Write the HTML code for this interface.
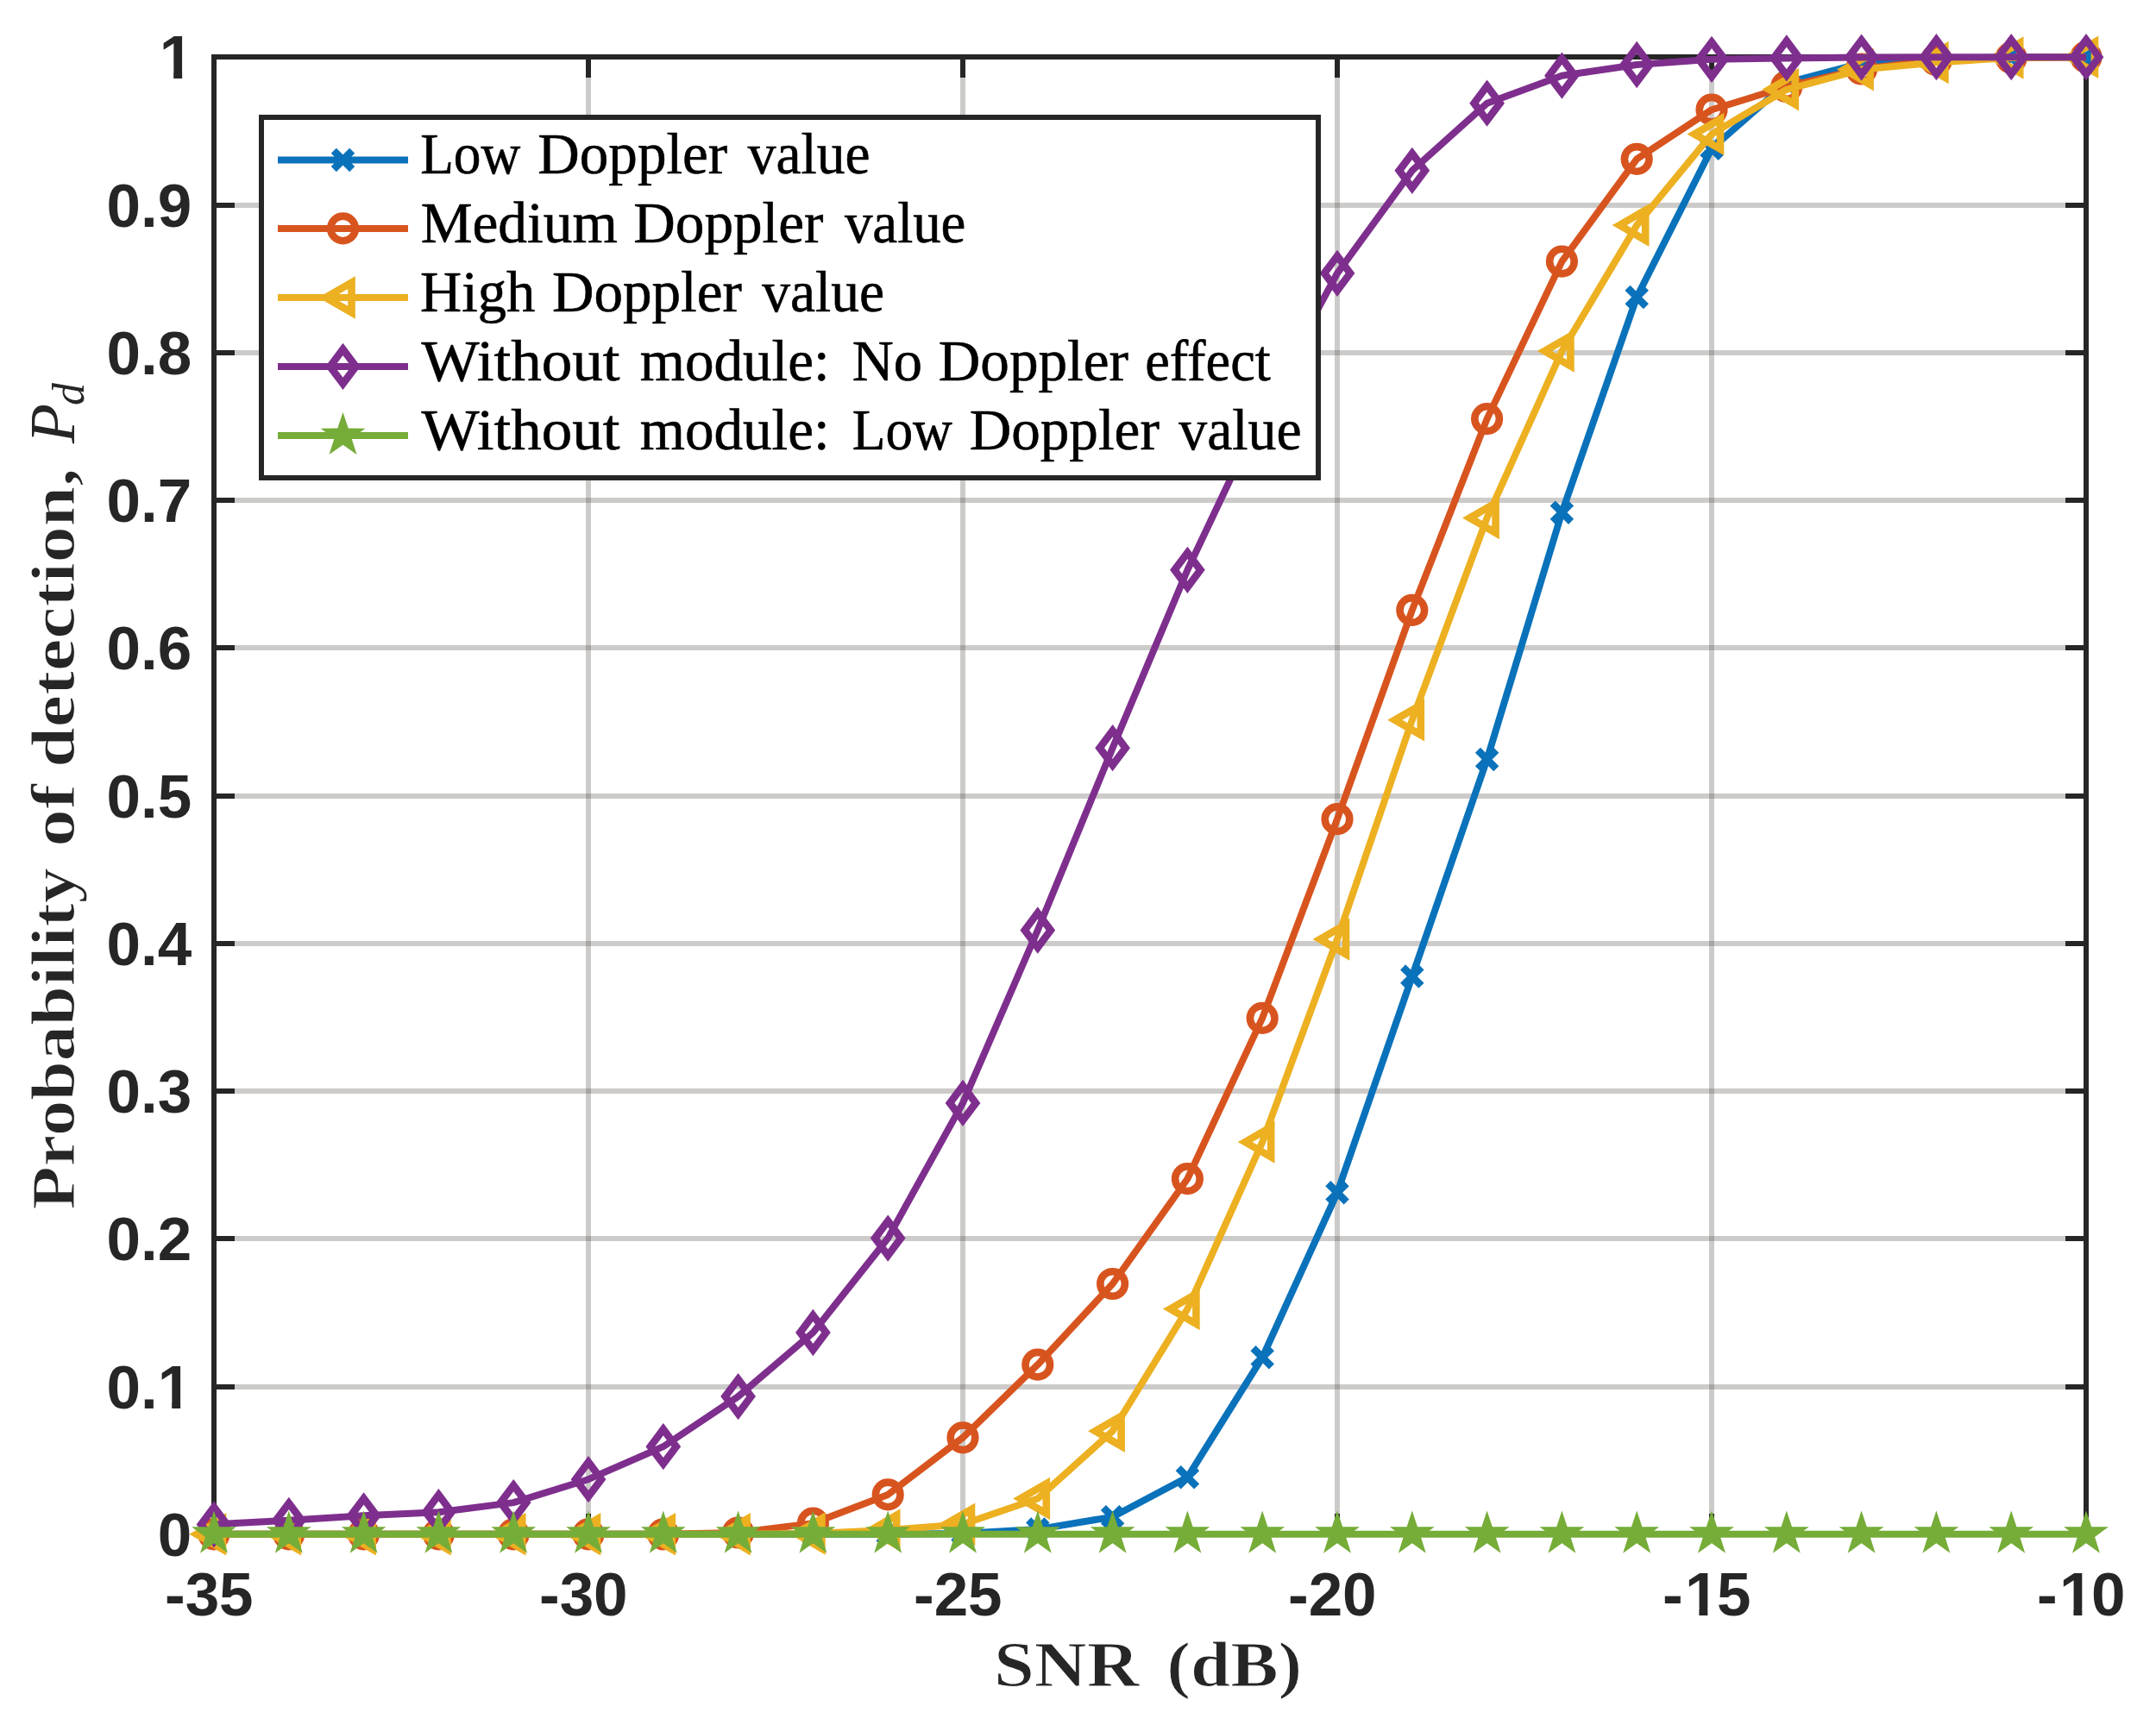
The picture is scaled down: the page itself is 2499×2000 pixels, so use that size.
<!DOCTYPE html>
<html lang="en"><head><meta charset="utf-8"><title>Probability of detection vs SNR</title>
<style>html,body{margin:0;padding:0;background:#fff;}body{width:2499px;height:2000px;overflow:hidden;}svg{display:block;}</style>
</head><body>
<svg width="2499" height="2000" viewBox="0 0 2499 2000">
<rect width="2499" height="2000" fill="#ffffff"/>
<g stroke="#cccbc9" stroke-width="6.0" fill="none">
<line x1="682.0" y1="66.0" x2="682.0" y2="1779.0"/>
<line x1="1116.0" y1="66.0" x2="1116.0" y2="1779.0"/>
<line x1="1550.0" y1="66.0" x2="1550.0" y2="1779.0"/>
<line x1="1984.0" y1="66.0" x2="1984.0" y2="1779.0"/>
<line x1="248.0" y1="1608" x2="2418.0" y2="1608"/>
<line x1="248.0" y1="1436" x2="2418.0" y2="1436"/>
<line x1="248.0" y1="1265" x2="2418.0" y2="1265"/>
<line x1="248.0" y1="1094" x2="2418.0" y2="1094"/>
<line x1="248.0" y1="923" x2="2418.0" y2="923"/>
<line x1="248.0" y1="751" x2="2418.0" y2="751"/>
<line x1="248.0" y1="580" x2="2418.0" y2="580"/>
<line x1="248.0" y1="409" x2="2418.0" y2="409"/>
<line x1="248.0" y1="238" x2="2418.0" y2="238"/>
</g>
<g fill="#a7a6a4">
<rect x="679.0" y="1605.0" width="6.0" height="6.0"/>
<rect x="679.0" y="1433.0" width="6.0" height="6.0"/>
<rect x="679.0" y="1262.0" width="6.0" height="6.0"/>
<rect x="679.0" y="1091.0" width="6.0" height="6.0"/>
<rect x="679.0" y="920.0" width="6.0" height="6.0"/>
<rect x="679.0" y="748.0" width="6.0" height="6.0"/>
<rect x="679.0" y="577.0" width="6.0" height="6.0"/>
<rect x="679.0" y="406.0" width="6.0" height="6.0"/>
<rect x="679.0" y="235.0" width="6.0" height="6.0"/>
<rect x="1113.0" y="1605.0" width="6.0" height="6.0"/>
<rect x="1113.0" y="1433.0" width="6.0" height="6.0"/>
<rect x="1113.0" y="1262.0" width="6.0" height="6.0"/>
<rect x="1113.0" y="1091.0" width="6.0" height="6.0"/>
<rect x="1113.0" y="920.0" width="6.0" height="6.0"/>
<rect x="1113.0" y="748.0" width="6.0" height="6.0"/>
<rect x="1113.0" y="577.0" width="6.0" height="6.0"/>
<rect x="1113.0" y="406.0" width="6.0" height="6.0"/>
<rect x="1113.0" y="235.0" width="6.0" height="6.0"/>
<rect x="1547.0" y="1605.0" width="6.0" height="6.0"/>
<rect x="1547.0" y="1433.0" width="6.0" height="6.0"/>
<rect x="1547.0" y="1262.0" width="6.0" height="6.0"/>
<rect x="1547.0" y="1091.0" width="6.0" height="6.0"/>
<rect x="1547.0" y="920.0" width="6.0" height="6.0"/>
<rect x="1547.0" y="748.0" width="6.0" height="6.0"/>
<rect x="1547.0" y="577.0" width="6.0" height="6.0"/>
<rect x="1547.0" y="406.0" width="6.0" height="6.0"/>
<rect x="1547.0" y="235.0" width="6.0" height="6.0"/>
<rect x="1981.0" y="1605.0" width="6.0" height="6.0"/>
<rect x="1981.0" y="1433.0" width="6.0" height="6.0"/>
<rect x="1981.0" y="1262.0" width="6.0" height="6.0"/>
<rect x="1981.0" y="1091.0" width="6.0" height="6.0"/>
<rect x="1981.0" y="920.0" width="6.0" height="6.0"/>
<rect x="1981.0" y="748.0" width="6.0" height="6.0"/>
<rect x="1981.0" y="577.0" width="6.0" height="6.0"/>
<rect x="1981.0" y="406.0" width="6.0" height="6.0"/>
<rect x="1981.0" y="235.0" width="6.0" height="6.0"/>
</g>
<g stroke="#262626" stroke-width="6.0" fill="none" stroke-linecap="butt">
<rect x="248.0" y="66.0" width="2170.0" height="1713.0"/>
<line x1="248.0" y1="1779.0" x2="248.0" y2="1755.0"/>
<line x1="248.0" y1="66.0" x2="248.0" y2="90.0"/>
<line x1="682.0" y1="1779.0" x2="682.0" y2="1755.0"/>
<line x1="682.0" y1="66.0" x2="682.0" y2="90.0"/>
<line x1="1116.0" y1="1779.0" x2="1116.0" y2="1755.0"/>
<line x1="1116.0" y1="66.0" x2="1116.0" y2="90.0"/>
<line x1="1550.0" y1="1779.0" x2="1550.0" y2="1755.0"/>
<line x1="1550.0" y1="66.0" x2="1550.0" y2="90.0"/>
<line x1="1984.0" y1="1779.0" x2="1984.0" y2="1755.0"/>
<line x1="1984.0" y1="66.0" x2="1984.0" y2="90.0"/>
<line x1="2418.0" y1="1779.0" x2="2418.0" y2="1755.0"/>
<line x1="2418.0" y1="66.0" x2="2418.0" y2="90.0"/>
<line x1="248.0" y1="1779" x2="272.0" y2="1779"/>
<line x1="2418.0" y1="1779" x2="2394.0" y2="1779"/>
<line x1="248.0" y1="1608" x2="272.0" y2="1608"/>
<line x1="2418.0" y1="1608" x2="2394.0" y2="1608"/>
<line x1="248.0" y1="1436" x2="272.0" y2="1436"/>
<line x1="2418.0" y1="1436" x2="2394.0" y2="1436"/>
<line x1="248.0" y1="1265" x2="272.0" y2="1265"/>
<line x1="2418.0" y1="1265" x2="2394.0" y2="1265"/>
<line x1="248.0" y1="1094" x2="272.0" y2="1094"/>
<line x1="2418.0" y1="1094" x2="2394.0" y2="1094"/>
<line x1="248.0" y1="923" x2="272.0" y2="923"/>
<line x1="2418.0" y1="923" x2="2394.0" y2="923"/>
<line x1="248.0" y1="751" x2="272.0" y2="751"/>
<line x1="2418.0" y1="751" x2="2394.0" y2="751"/>
<line x1="248.0" y1="580" x2="272.0" y2="580"/>
<line x1="2418.0" y1="580" x2="2394.0" y2="580"/>
<line x1="248.0" y1="409" x2="272.0" y2="409"/>
<line x1="2418.0" y1="409" x2="2394.0" y2="409"/>
<line x1="248.0" y1="238" x2="272.0" y2="238"/>
<line x1="2418.0" y1="238" x2="2394.0" y2="238"/>
<line x1="248.0" y1="66" x2="272.0" y2="66"/>
<line x1="2418.0" y1="66" x2="2394.0" y2="66"/>
</g>
<g>
<polyline points="248.0,1778.8 334.8,1778.8 421.6,1778.8 508.4,1778.8 595.2,1778.8 682.0,1778.8 768.8,1778.8 855.6,1778.8 942.4,1778.8 1029.2,1778.8 1116.0,1777.9 1202.8,1773.1 1289.6,1758.7 1376.4,1712.8 1463.2,1573.8 1550.0,1382.8 1636.8,1132.1 1723.6,880.5 1810.4,594.2 1897.2,344.5 1984.0,172.3 2070.8,96.2 2157.6,73.1 2244.4,68.0 2331.2,66.2 2418.0,66.2" stroke="#0A72BA" stroke-width="8.0" fill="none" stroke-linejoin="round" stroke-linecap="butt"/>
<path d="M237.3 1768.0L258.7 1789.5M237.3 1789.5L258.7 1768.0" stroke="#0A72BA" stroke-width="8.6" fill="none" stroke-linecap="butt"/>
<path d="M324.1 1768.0L345.5 1789.5M324.1 1789.5L345.5 1768.0" stroke="#0A72BA" stroke-width="8.6" fill="none" stroke-linecap="butt"/>
<path d="M410.9 1768.0L432.3 1789.5M410.9 1789.5L432.3 1768.0" stroke="#0A72BA" stroke-width="8.6" fill="none" stroke-linecap="butt"/>
<path d="M497.7 1768.0L519.1 1789.5M497.7 1789.5L519.1 1768.0" stroke="#0A72BA" stroke-width="8.6" fill="none" stroke-linecap="butt"/>
<path d="M584.5 1768.0L605.9 1789.5M584.5 1789.5L605.9 1768.0" stroke="#0A72BA" stroke-width="8.6" fill="none" stroke-linecap="butt"/>
<path d="M671.3 1768.0L692.7 1789.5M671.3 1789.5L692.7 1768.0" stroke="#0A72BA" stroke-width="8.6" fill="none" stroke-linecap="butt"/>
<path d="M758.1 1768.0L779.5 1789.5M758.1 1789.5L779.5 1768.0" stroke="#0A72BA" stroke-width="8.6" fill="none" stroke-linecap="butt"/>
<path d="M844.9 1768.0L866.3 1789.5M844.9 1789.5L866.3 1768.0" stroke="#0A72BA" stroke-width="8.6" fill="none" stroke-linecap="butt"/>
<path d="M931.7 1768.0L953.1 1789.5M931.7 1789.5L953.1 1768.0" stroke="#0A72BA" stroke-width="8.6" fill="none" stroke-linecap="butt"/>
<path d="M1018.5 1768.0L1039.9 1789.5M1018.5 1789.5L1039.9 1768.0" stroke="#0A72BA" stroke-width="8.6" fill="none" stroke-linecap="butt"/>
<path d="M1105.3 1767.2L1126.7 1788.6M1105.3 1788.6L1126.7 1767.2" stroke="#0A72BA" stroke-width="8.6" fill="none" stroke-linecap="butt"/>
<path d="M1192.1 1762.4L1213.5 1783.8M1192.1 1783.8L1213.5 1762.4" stroke="#0A72BA" stroke-width="8.6" fill="none" stroke-linecap="butt"/>
<path d="M1278.9 1748.0L1300.3 1769.4M1278.9 1769.4L1300.3 1748.0" stroke="#0A72BA" stroke-width="8.6" fill="none" stroke-linecap="butt"/>
<path d="M1365.7 1702.1L1387.1 1723.5M1365.7 1723.5L1387.1 1702.1" stroke="#0A72BA" stroke-width="8.6" fill="none" stroke-linecap="butt"/>
<path d="M1452.5 1563.1L1473.9 1584.5M1452.5 1584.5L1473.9 1563.1" stroke="#0A72BA" stroke-width="8.6" fill="none" stroke-linecap="butt"/>
<path d="M1539.3 1372.1L1560.7 1393.5M1539.3 1393.5L1560.7 1372.1" stroke="#0A72BA" stroke-width="8.6" fill="none" stroke-linecap="butt"/>
<path d="M1626.1 1121.4L1647.5 1142.8M1626.1 1142.8L1647.5 1121.4" stroke="#0A72BA" stroke-width="8.6" fill="none" stroke-linecap="butt"/>
<path d="M1712.9 869.8L1734.3 891.2M1712.9 891.2L1734.3 869.8" stroke="#0A72BA" stroke-width="8.6" fill="none" stroke-linecap="butt"/>
<path d="M1799.7 583.5L1821.1 604.9M1799.7 604.9L1821.1 583.5" stroke="#0A72BA" stroke-width="8.6" fill="none" stroke-linecap="butt"/>
<path d="M1886.5 333.8L1907.9 355.2M1886.5 355.2L1907.9 333.8" stroke="#0A72BA" stroke-width="8.6" fill="none" stroke-linecap="butt"/>
<path d="M1973.3 161.6L1994.7 183.0M1973.3 183.0L1994.7 161.6" stroke="#0A72BA" stroke-width="8.6" fill="none" stroke-linecap="butt"/>
<path d="M2060.1 85.5L2081.5 106.9M2060.1 106.9L2081.5 85.5" stroke="#0A72BA" stroke-width="8.6" fill="none" stroke-linecap="butt"/>
<path d="M2146.9 62.4L2168.3 83.8M2146.9 83.8L2168.3 62.4" stroke="#0A72BA" stroke-width="8.6" fill="none" stroke-linecap="butt"/>
<path d="M2233.7 57.3L2255.1 78.7M2233.7 78.7L2255.1 57.3" stroke="#0A72BA" stroke-width="8.6" fill="none" stroke-linecap="butt"/>
<path d="M2320.5 55.5L2341.9 77.0M2320.5 77.0L2341.9 55.5" stroke="#0A72BA" stroke-width="8.6" fill="none" stroke-linecap="butt"/>
<path d="M2407.3 55.5L2428.7 77.0M2407.3 77.0L2428.7 55.5" stroke="#0A72BA" stroke-width="8.6" fill="none" stroke-linecap="butt"/>
<polyline points="248.0,1778.8 334.8,1778.8 421.6,1778.8 508.4,1778.8 595.2,1778.8 682.0,1778.8 768.8,1778.8 855.6,1777.0 942.4,1766.1 1029.2,1732.9 1116.0,1666.8 1202.8,1582.2 1289.6,1488.5 1376.4,1366.7 1463.2,1180.4 1550.0,949.7 1636.8,707.4 1723.6,485.6 1810.4,303.1 1897.2,184.4 1984.0,127.2 2070.8,100.5 2157.6,80.0 2244.4,69.7 2331.2,67.1 2418.0,66.2" stroke="#D8541F" stroke-width="8.0" fill="none" stroke-linejoin="round" stroke-linecap="butt"/>
<circle cx="248.0" cy="1778.8" r="14.3" stroke="#D8541F" stroke-width="8.6" fill="none"/>
<circle cx="334.8" cy="1778.8" r="14.3" stroke="#D8541F" stroke-width="8.6" fill="none"/>
<circle cx="421.6" cy="1778.8" r="14.3" stroke="#D8541F" stroke-width="8.6" fill="none"/>
<circle cx="508.4" cy="1778.8" r="14.3" stroke="#D8541F" stroke-width="8.6" fill="none"/>
<circle cx="595.2" cy="1778.8" r="14.3" stroke="#D8541F" stroke-width="8.6" fill="none"/>
<circle cx="682.0" cy="1778.8" r="14.3" stroke="#D8541F" stroke-width="8.6" fill="none"/>
<circle cx="768.8" cy="1778.8" r="14.3" stroke="#D8541F" stroke-width="8.6" fill="none"/>
<circle cx="855.6" cy="1777.0" r="14.3" stroke="#D8541F" stroke-width="8.6" fill="none"/>
<circle cx="942.4" cy="1766.1" r="14.3" stroke="#D8541F" stroke-width="8.6" fill="none"/>
<circle cx="1029.2" cy="1732.9" r="14.3" stroke="#D8541F" stroke-width="8.6" fill="none"/>
<circle cx="1116.0" cy="1666.8" r="14.3" stroke="#D8541F" stroke-width="8.6" fill="none"/>
<circle cx="1202.8" cy="1582.2" r="14.3" stroke="#D8541F" stroke-width="8.6" fill="none"/>
<circle cx="1289.6" cy="1488.5" r="14.3" stroke="#D8541F" stroke-width="8.6" fill="none"/>
<circle cx="1376.4" cy="1366.7" r="14.3" stroke="#D8541F" stroke-width="8.6" fill="none"/>
<circle cx="1463.2" cy="1180.4" r="14.3" stroke="#D8541F" stroke-width="8.6" fill="none"/>
<circle cx="1550.0" cy="949.7" r="14.3" stroke="#D8541F" stroke-width="8.6" fill="none"/>
<circle cx="1636.8" cy="707.4" r="14.3" stroke="#D8541F" stroke-width="8.6" fill="none"/>
<circle cx="1723.6" cy="485.6" r="14.3" stroke="#D8541F" stroke-width="8.6" fill="none"/>
<circle cx="1810.4" cy="303.1" r="14.3" stroke="#D8541F" stroke-width="8.6" fill="none"/>
<circle cx="1897.2" cy="184.4" r="14.3" stroke="#D8541F" stroke-width="8.6" fill="none"/>
<circle cx="1984.0" cy="127.2" r="14.3" stroke="#D8541F" stroke-width="8.6" fill="none"/>
<circle cx="2070.8" cy="100.5" r="14.3" stroke="#D8541F" stroke-width="8.6" fill="none"/>
<circle cx="2157.6" cy="80.0" r="14.3" stroke="#D8541F" stroke-width="8.6" fill="none"/>
<circle cx="2244.4" cy="69.7" r="14.3" stroke="#D8541F" stroke-width="8.6" fill="none"/>
<circle cx="2331.2" cy="67.1" r="14.3" stroke="#D8541F" stroke-width="8.6" fill="none"/>
<circle cx="2418.0" cy="66.2" r="14.3" stroke="#D8541F" stroke-width="8.6" fill="none"/>
<polyline points="248.0,1778.8 334.8,1778.8 421.6,1778.8 508.4,1778.8 595.2,1778.8 682.0,1778.8 768.8,1778.8 855.6,1778.8 942.4,1777.9 1029.2,1774.1 1116.0,1767.3 1202.8,1737.5 1289.6,1659.2 1376.4,1517.6 1463.2,1324.1 1550.0,1089.0 1636.8,834.8 1723.6,600.4 1810.4,407.0 1897.2,261.1 1984.0,155.5 2070.8,103.8 2157.6,80.6 2244.4,72.4 2331.2,67.1 2418.0,66.2" stroke="#ECB021" stroke-width="8.0" fill="none" stroke-linejoin="round" stroke-linecap="butt"/>
<path d="M228.0 1778.8L258.0 1761.4L258.0 1796.1Z" stroke="#ECB021" stroke-width="8.6" fill="none" stroke-linejoin="miter" stroke-miterlimit="10"/>
<path d="M314.8 1778.8L344.8 1761.4L344.8 1796.1Z" stroke="#ECB021" stroke-width="8.6" fill="none" stroke-linejoin="miter" stroke-miterlimit="10"/>
<path d="M401.6 1778.8L431.6 1761.4L431.6 1796.1Z" stroke="#ECB021" stroke-width="8.6" fill="none" stroke-linejoin="miter" stroke-miterlimit="10"/>
<path d="M488.4 1778.8L518.4 1761.4L518.4 1796.1Z" stroke="#ECB021" stroke-width="8.6" fill="none" stroke-linejoin="miter" stroke-miterlimit="10"/>
<path d="M575.2 1778.8L605.2 1761.4L605.2 1796.1Z" stroke="#ECB021" stroke-width="8.6" fill="none" stroke-linejoin="miter" stroke-miterlimit="10"/>
<path d="M662.0 1778.8L692.0 1761.4L692.0 1796.1Z" stroke="#ECB021" stroke-width="8.6" fill="none" stroke-linejoin="miter" stroke-miterlimit="10"/>
<path d="M748.8 1778.8L778.8 1761.4L778.8 1796.1Z" stroke="#ECB021" stroke-width="8.6" fill="none" stroke-linejoin="miter" stroke-miterlimit="10"/>
<path d="M835.6 1778.8L865.6 1761.4L865.6 1796.1Z" stroke="#ECB021" stroke-width="8.6" fill="none" stroke-linejoin="miter" stroke-miterlimit="10"/>
<path d="M922.4 1777.9L952.4 1760.6L952.4 1795.2Z" stroke="#ECB021" stroke-width="8.6" fill="none" stroke-linejoin="miter" stroke-miterlimit="10"/>
<path d="M1009.2 1774.1L1039.2 1756.8L1039.2 1791.4Z" stroke="#ECB021" stroke-width="8.6" fill="none" stroke-linejoin="miter" stroke-miterlimit="10"/>
<path d="M1096.0 1767.3L1126.0 1750.0L1126.0 1784.6Z" stroke="#ECB021" stroke-width="8.6" fill="none" stroke-linejoin="miter" stroke-miterlimit="10"/>
<path d="M1182.8 1737.5L1212.8 1720.2L1212.8 1754.8Z" stroke="#ECB021" stroke-width="8.6" fill="none" stroke-linejoin="miter" stroke-miterlimit="10"/>
<path d="M1269.6 1659.2L1299.6 1641.9L1299.6 1676.5Z" stroke="#ECB021" stroke-width="8.6" fill="none" stroke-linejoin="miter" stroke-miterlimit="10"/>
<path d="M1356.4 1517.6L1386.4 1500.3L1386.4 1534.9Z" stroke="#ECB021" stroke-width="8.6" fill="none" stroke-linejoin="miter" stroke-miterlimit="10"/>
<path d="M1443.2 1324.1L1473.2 1306.8L1473.2 1341.4Z" stroke="#ECB021" stroke-width="8.6" fill="none" stroke-linejoin="miter" stroke-miterlimit="10"/>
<path d="M1530.0 1089.0L1560.0 1071.6L1560.0 1106.3Z" stroke="#ECB021" stroke-width="8.6" fill="none" stroke-linejoin="miter" stroke-miterlimit="10"/>
<path d="M1616.8 834.8L1646.8 817.5L1646.8 852.1Z" stroke="#ECB021" stroke-width="8.6" fill="none" stroke-linejoin="miter" stroke-miterlimit="10"/>
<path d="M1703.6 600.4L1733.6 583.1L1733.6 617.7Z" stroke="#ECB021" stroke-width="8.6" fill="none" stroke-linejoin="miter" stroke-miterlimit="10"/>
<path d="M1790.4 407.0L1820.4 389.7L1820.4 424.4Z" stroke="#ECB021" stroke-width="8.6" fill="none" stroke-linejoin="miter" stroke-miterlimit="10"/>
<path d="M1877.2 261.1L1907.2 243.8L1907.2 278.5Z" stroke="#ECB021" stroke-width="8.6" fill="none" stroke-linejoin="miter" stroke-miterlimit="10"/>
<path d="M1964.0 155.5L1994.0 138.2L1994.0 172.8Z" stroke="#ECB021" stroke-width="8.6" fill="none" stroke-linejoin="miter" stroke-miterlimit="10"/>
<path d="M2050.8 103.8L2080.8 86.4L2080.8 121.1Z" stroke="#ECB021" stroke-width="8.6" fill="none" stroke-linejoin="miter" stroke-miterlimit="10"/>
<path d="M2137.6 80.6L2167.6 63.3L2167.6 98.0Z" stroke="#ECB021" stroke-width="8.6" fill="none" stroke-linejoin="miter" stroke-miterlimit="10"/>
<path d="M2224.4 72.4L2254.4 55.1L2254.4 89.7Z" stroke="#ECB021" stroke-width="8.6" fill="none" stroke-linejoin="miter" stroke-miterlimit="10"/>
<path d="M2311.2 67.1L2341.2 49.8L2341.2 84.4Z" stroke="#ECB021" stroke-width="8.6" fill="none" stroke-linejoin="miter" stroke-miterlimit="10"/>
<path d="M2398.0 66.2L2428.0 48.9L2428.0 83.6Z" stroke="#ECB021" stroke-width="8.6" fill="none" stroke-linejoin="miter" stroke-miterlimit="10"/>
<polyline points="248.0,1767.4 334.8,1762.8 421.6,1757.3 508.4,1753.2 595.2,1742.1 682.0,1715.2 768.8,1677.2 855.6,1619.1 942.4,1545.0 1029.2,1435.6 1116.0,1278.9 1202.8,1078.5 1289.6,867.2 1376.4,660.8 1463.2,477.2 1550.0,316.8 1636.8,197.8 1723.6,119.7 1810.4,87.7 1897.2,75.0 1984.0,68.8 2070.8,67.4 2157.6,66.6 2244.4,66.2 2331.2,66.2 2418.0,66.2" stroke="#7E2F8D" stroke-width="8.0" fill="none" stroke-linejoin="round" stroke-linecap="butt"/>
<path d="M248.0 1747.4L263.0 1767.4L248.0 1787.4L233.0 1767.4Z" stroke="#7E2F8D" stroke-width="8.6" fill="none" stroke-linejoin="miter" stroke-miterlimit="10"/>
<path d="M334.8 1742.8L349.8 1762.8L334.8 1782.8L319.8 1762.8Z" stroke="#7E2F8D" stroke-width="8.6" fill="none" stroke-linejoin="miter" stroke-miterlimit="10"/>
<path d="M421.6 1737.3L436.6 1757.3L421.6 1777.3L406.6 1757.3Z" stroke="#7E2F8D" stroke-width="8.6" fill="none" stroke-linejoin="miter" stroke-miterlimit="10"/>
<path d="M508.4 1733.2L523.4 1753.2L508.4 1773.2L493.4 1753.2Z" stroke="#7E2F8D" stroke-width="8.6" fill="none" stroke-linejoin="miter" stroke-miterlimit="10"/>
<path d="M595.2 1722.1L610.2 1742.1L595.2 1762.1L580.2 1742.1Z" stroke="#7E2F8D" stroke-width="8.6" fill="none" stroke-linejoin="miter" stroke-miterlimit="10"/>
<path d="M682.0 1695.2L697.0 1715.2L682.0 1735.2L667.0 1715.2Z" stroke="#7E2F8D" stroke-width="8.6" fill="none" stroke-linejoin="miter" stroke-miterlimit="10"/>
<path d="M768.8 1657.2L783.8 1677.2L768.8 1697.2L753.8 1677.2Z" stroke="#7E2F8D" stroke-width="8.6" fill="none" stroke-linejoin="miter" stroke-miterlimit="10"/>
<path d="M855.6 1599.1L870.6 1619.1L855.6 1639.1L840.6 1619.1Z" stroke="#7E2F8D" stroke-width="8.6" fill="none" stroke-linejoin="miter" stroke-miterlimit="10"/>
<path d="M942.4 1525.0L957.4 1545.0L942.4 1565.0L927.4 1545.0Z" stroke="#7E2F8D" stroke-width="8.6" fill="none" stroke-linejoin="miter" stroke-miterlimit="10"/>
<path d="M1029.2 1415.6L1044.2 1435.6L1029.2 1455.6L1014.2 1435.6Z" stroke="#7E2F8D" stroke-width="8.6" fill="none" stroke-linejoin="miter" stroke-miterlimit="10"/>
<path d="M1116.0 1258.9L1131.0 1278.9L1116.0 1298.9L1101.0 1278.9Z" stroke="#7E2F8D" stroke-width="8.6" fill="none" stroke-linejoin="miter" stroke-miterlimit="10"/>
<path d="M1202.8 1058.5L1217.8 1078.5L1202.8 1098.5L1187.8 1078.5Z" stroke="#7E2F8D" stroke-width="8.6" fill="none" stroke-linejoin="miter" stroke-miterlimit="10"/>
<path d="M1289.6 847.2L1304.6 867.2L1289.6 887.2L1274.6 867.2Z" stroke="#7E2F8D" stroke-width="8.6" fill="none" stroke-linejoin="miter" stroke-miterlimit="10"/>
<path d="M1376.4 640.8L1391.4 660.8L1376.4 680.8L1361.4 660.8Z" stroke="#7E2F8D" stroke-width="8.6" fill="none" stroke-linejoin="miter" stroke-miterlimit="10"/>
<path d="M1463.2 457.2L1478.2 477.2L1463.2 497.2L1448.2 477.2Z" stroke="#7E2F8D" stroke-width="8.6" fill="none" stroke-linejoin="miter" stroke-miterlimit="10"/>
<path d="M1550.0 296.8L1565.0 316.8L1550.0 336.8L1535.0 316.8Z" stroke="#7E2F8D" stroke-width="8.6" fill="none" stroke-linejoin="miter" stroke-miterlimit="10"/>
<path d="M1636.8 177.8L1651.8 197.8L1636.8 217.8L1621.8 197.8Z" stroke="#7E2F8D" stroke-width="8.6" fill="none" stroke-linejoin="miter" stroke-miterlimit="10"/>
<path d="M1723.6 99.7L1738.6 119.7L1723.6 139.7L1708.6 119.7Z" stroke="#7E2F8D" stroke-width="8.6" fill="none" stroke-linejoin="miter" stroke-miterlimit="10"/>
<path d="M1810.4 67.7L1825.4 87.7L1810.4 107.7L1795.4 87.7Z" stroke="#7E2F8D" stroke-width="8.6" fill="none" stroke-linejoin="miter" stroke-miterlimit="10"/>
<path d="M1897.2 55.0L1912.2 75.0L1897.2 95.0L1882.2 75.0Z" stroke="#7E2F8D" stroke-width="8.6" fill="none" stroke-linejoin="miter" stroke-miterlimit="10"/>
<path d="M1984.0 48.8L1999.0 68.8L1984.0 88.8L1969.0 68.8Z" stroke="#7E2F8D" stroke-width="8.6" fill="none" stroke-linejoin="miter" stroke-miterlimit="10"/>
<path d="M2070.8 47.4L2085.8 67.4L2070.8 87.4L2055.8 67.4Z" stroke="#7E2F8D" stroke-width="8.6" fill="none" stroke-linejoin="miter" stroke-miterlimit="10"/>
<path d="M2157.6 46.6L2172.6 66.6L2157.6 86.6L2142.6 66.6Z" stroke="#7E2F8D" stroke-width="8.6" fill="none" stroke-linejoin="miter" stroke-miterlimit="10"/>
<path d="M2244.4 46.2L2259.4 66.2L2244.4 86.2L2229.4 66.2Z" stroke="#7E2F8D" stroke-width="8.6" fill="none" stroke-linejoin="miter" stroke-miterlimit="10"/>
<path d="M2331.2 46.2L2346.2 66.2L2331.2 86.2L2316.2 66.2Z" stroke="#7E2F8D" stroke-width="8.6" fill="none" stroke-linejoin="miter" stroke-miterlimit="10"/>
<path d="M2418.0 46.2L2433.0 66.2L2418.0 86.2L2403.0 66.2Z" stroke="#7E2F8D" stroke-width="8.6" fill="none" stroke-linejoin="miter" stroke-miterlimit="10"/>
<polyline points="248.0,1778.8 334.8,1778.8 421.6,1778.8 508.4,1778.8 595.2,1778.8 682.0,1778.8 768.8,1778.8 855.6,1778.8 942.4,1778.8 1029.2,1778.8 1116.0,1778.8 1202.8,1778.8 1289.6,1778.8 1376.4,1778.8 1463.2,1778.8 1550.0,1778.8 1636.8,1778.8 1723.6,1778.8 1810.4,1778.8 1897.2,1778.8 1984.0,1778.8 2070.8,1778.8 2157.6,1778.8 2244.4,1778.8 2331.2,1778.8 2418.0,1778.8" stroke="#76AC38" stroke-width="8.0" fill="none" stroke-linejoin="round" stroke-linecap="butt"/>
<polygon points="248.0,1751.5 254.2,1770.2 273.9,1770.3 258.1,1782.0 264.0,1800.8 248.0,1789.3 232.0,1800.8 237.9,1782.0 222.1,1770.3 241.8,1770.2" fill="#76AC38"/>
<polygon points="334.8,1751.5 341.0,1770.2 360.7,1770.3 344.9,1782.0 350.8,1800.8 334.8,1789.3 318.8,1800.8 324.7,1782.0 308.9,1770.3 328.6,1770.2" fill="#76AC38"/>
<polygon points="421.6,1751.5 427.8,1770.2 447.5,1770.3 431.7,1782.0 437.6,1800.8 421.6,1789.3 405.6,1800.8 411.5,1782.0 395.7,1770.3 415.4,1770.2" fill="#76AC38"/>
<polygon points="508.4,1751.5 514.6,1770.2 534.3,1770.3 518.5,1782.0 524.4,1800.8 508.4,1789.3 492.4,1800.8 498.3,1782.0 482.5,1770.3 502.2,1770.2" fill="#76AC38"/>
<polygon points="595.2,1751.5 601.4,1770.2 621.1,1770.3 605.3,1782.0 611.2,1800.8 595.2,1789.3 579.2,1800.8 585.1,1782.0 569.3,1770.3 589.0,1770.2" fill="#76AC38"/>
<polygon points="682.0,1751.5 688.2,1770.2 707.9,1770.3 692.1,1782.0 698.0,1800.8 682.0,1789.3 666.0,1800.8 671.9,1782.0 656.1,1770.3 675.8,1770.2" fill="#76AC38"/>
<polygon points="768.8,1751.5 775.0,1770.2 794.7,1770.3 778.9,1782.0 784.8,1800.8 768.8,1789.3 752.8,1800.8 758.7,1782.0 742.9,1770.3 762.6,1770.2" fill="#76AC38"/>
<polygon points="855.6,1751.5 861.8,1770.2 881.5,1770.3 865.7,1782.0 871.6,1800.8 855.6,1789.3 839.6,1800.8 845.5,1782.0 829.7,1770.3 849.4,1770.2" fill="#76AC38"/>
<polygon points="942.4,1751.5 948.6,1770.2 968.3,1770.3 952.5,1782.0 958.4,1800.8 942.4,1789.3 926.4,1800.8 932.3,1782.0 916.5,1770.3 936.2,1770.2" fill="#76AC38"/>
<polygon points="1029.2,1751.5 1035.4,1770.2 1055.1,1770.3 1039.3,1782.0 1045.2,1800.8 1029.2,1789.3 1013.2,1800.8 1019.1,1782.0 1003.3,1770.3 1023.0,1770.2" fill="#76AC38"/>
<polygon points="1116.0,1751.5 1122.2,1770.2 1141.9,1770.3 1126.1,1782.0 1132.0,1800.8 1116.0,1789.3 1100.0,1800.8 1105.9,1782.0 1090.1,1770.3 1109.8,1770.2" fill="#76AC38"/>
<polygon points="1202.8,1751.5 1209.0,1770.2 1228.7,1770.3 1212.9,1782.0 1218.8,1800.8 1202.8,1789.3 1186.8,1800.8 1192.7,1782.0 1176.9,1770.3 1196.6,1770.2" fill="#76AC38"/>
<polygon points="1289.6,1751.5 1295.8,1770.2 1315.5,1770.3 1299.7,1782.0 1305.6,1800.8 1289.6,1789.3 1273.6,1800.8 1279.5,1782.0 1263.7,1770.3 1283.4,1770.2" fill="#76AC38"/>
<polygon points="1376.4,1751.5 1382.6,1770.2 1402.3,1770.3 1386.5,1782.0 1392.4,1800.8 1376.4,1789.3 1360.4,1800.8 1366.3,1782.0 1350.5,1770.3 1370.2,1770.2" fill="#76AC38"/>
<polygon points="1463.2,1751.5 1469.4,1770.2 1489.1,1770.3 1473.3,1782.0 1479.2,1800.8 1463.2,1789.3 1447.2,1800.8 1453.1,1782.0 1437.3,1770.3 1457.0,1770.2" fill="#76AC38"/>
<polygon points="1550.0,1751.5 1556.2,1770.2 1575.9,1770.3 1560.1,1782.0 1566.0,1800.8 1550.0,1789.3 1534.0,1800.8 1539.9,1782.0 1524.1,1770.3 1543.8,1770.2" fill="#76AC38"/>
<polygon points="1636.8,1751.5 1643.0,1770.2 1662.7,1770.3 1646.9,1782.0 1652.8,1800.8 1636.8,1789.3 1620.8,1800.8 1626.7,1782.0 1610.9,1770.3 1630.6,1770.2" fill="#76AC38"/>
<polygon points="1723.6,1751.5 1729.8,1770.2 1749.5,1770.3 1733.7,1782.0 1739.6,1800.8 1723.6,1789.3 1707.6,1800.8 1713.5,1782.0 1697.7,1770.3 1717.4,1770.2" fill="#76AC38"/>
<polygon points="1810.4,1751.5 1816.6,1770.2 1836.3,1770.3 1820.5,1782.0 1826.4,1800.8 1810.4,1789.3 1794.4,1800.8 1800.3,1782.0 1784.5,1770.3 1804.2,1770.2" fill="#76AC38"/>
<polygon points="1897.2,1751.5 1903.4,1770.2 1923.1,1770.3 1907.3,1782.0 1913.2,1800.8 1897.2,1789.3 1881.2,1800.8 1887.1,1782.0 1871.3,1770.3 1891.0,1770.2" fill="#76AC38"/>
<polygon points="1984.0,1751.5 1990.2,1770.2 2009.9,1770.3 1994.1,1782.0 2000.0,1800.8 1984.0,1789.3 1968.0,1800.8 1973.9,1782.0 1958.1,1770.3 1977.8,1770.2" fill="#76AC38"/>
<polygon points="2070.8,1751.5 2077.0,1770.2 2096.7,1770.3 2080.9,1782.0 2086.8,1800.8 2070.8,1789.3 2054.8,1800.8 2060.7,1782.0 2044.9,1770.3 2064.6,1770.2" fill="#76AC38"/>
<polygon points="2157.6,1751.5 2163.8,1770.2 2183.5,1770.3 2167.7,1782.0 2173.6,1800.8 2157.6,1789.3 2141.6,1800.8 2147.5,1782.0 2131.7,1770.3 2151.4,1770.2" fill="#76AC38"/>
<polygon points="2244.4,1751.5 2250.6,1770.2 2270.3,1770.3 2254.5,1782.0 2260.4,1800.8 2244.4,1789.3 2228.4,1800.8 2234.3,1782.0 2218.5,1770.3 2238.2,1770.2" fill="#76AC38"/>
<polygon points="2331.2,1751.5 2337.4,1770.2 2357.1,1770.3 2341.3,1782.0 2347.2,1800.8 2331.2,1789.3 2315.2,1800.8 2321.1,1782.0 2305.3,1770.3 2325.0,1770.2" fill="#76AC38"/>
<polygon points="2418.0,1751.5 2424.2,1770.2 2443.9,1770.3 2428.1,1782.0 2434.0,1800.8 2418.0,1789.3 2402.0,1800.8 2407.9,1782.0 2392.1,1770.3 2411.8,1770.2" fill="#76AC38"/>
</g>
<rect x="303.0" y="136.0" width="1225.0" height="418.0" fill="#ffffff" stroke="#262626" stroke-width="6.0"/>
<line x1="322" y1="185.4" x2="473" y2="185.4" stroke="#0A72BA" stroke-width="8.0"/>
<path d="M386.8 174.7L408.2 196.1M386.8 196.1L408.2 174.7" stroke="#0A72BA" stroke-width="8.6" fill="none" stroke-linecap="butt"/>
<line x1="322" y1="264.9" x2="473" y2="264.9" stroke="#D8541F" stroke-width="8.0"/>
<circle cx="397.5" cy="264.9" r="14.3" stroke="#D8541F" stroke-width="8.6" fill="none"/>
<line x1="322" y1="344.9" x2="473" y2="344.9" stroke="#ECB021" stroke-width="8.0"/>
<path d="M377.5 344.9L407.5 327.6L407.5 362.2Z" stroke="#ECB021" stroke-width="8.6" fill="none" stroke-linejoin="miter" stroke-miterlimit="10"/>
<line x1="322" y1="424.9" x2="473" y2="424.9" stroke="#7E2F8D" stroke-width="8.0"/>
<path d="M397.5 404.9L412.5 424.9L397.5 444.9L382.5 424.9Z" stroke="#7E2F8D" stroke-width="8.6" fill="none" stroke-linejoin="miter" stroke-miterlimit="10"/>
<line x1="322" y1="505.1" x2="473" y2="505.1" stroke="#76AC38" stroke-width="8.0"/>
<polygon points="397.5,477.9 403.7,496.5 423.4,496.7 407.6,508.4 413.5,527.1 397.5,515.7 381.5,527.1 387.4,508.4 371.6,496.7 391.3,496.5" fill="#76AC38"/>
<g font-family='"Liberation Serif", serif' fill="#000000" stroke="#000000" stroke-width="0.6">
<text x="487.18" y="200.5" font-size="67.5" textLength="116.10" lengthAdjust="spacingAndGlyphs">Low</text>
<text x="623.37" y="200.5" font-size="67.5" textLength="219.82" lengthAdjust="spacingAndGlyphs">Doppler</text>
<text x="866.80" y="200.5" font-size="67.5" textLength="141.67" lengthAdjust="spacingAndGlyphs">value</text>
<text x="487.66" y="281.0" font-size="67.5" textLength="228.09" lengthAdjust="spacingAndGlyphs">Medium</text>
<text x="734.37" y="281.0" font-size="67.5" textLength="220.02" lengthAdjust="spacingAndGlyphs">Doppler</text>
<text x="978.90" y="281.0" font-size="67.5" textLength="140.55" lengthAdjust="spacingAndGlyphs">value</text>
<text x="487.08" y="361.0" font-size="67.5" textLength="133.30" lengthAdjust="spacingAndGlyphs">High</text>
<text x="639.97" y="361.0" font-size="67.5" textLength="219.82" lengthAdjust="spacingAndGlyphs">Doppler</text>
<text x="883.20" y="361.0" font-size="67.5" textLength="141.77" lengthAdjust="spacingAndGlyphs">value</text>
<text x="488.53" y="441.0" font-size="67.5" textLength="230.09" lengthAdjust="spacingAndGlyphs">Without</text>
<text x="741.79" y="441.0" font-size="67.5" textLength="219.85" lengthAdjust="spacingAndGlyphs">module:</text>
<text x="987.68" y="441.0" font-size="67.5" textLength="81.25" lengthAdjust="spacingAndGlyphs">No</text>
<text x="1087.76" y="441.0" font-size="67.5" textLength="220.23" lengthAdjust="spacingAndGlyphs">Doppler</text>
<text x="1327.18" y="441.0" font-size="67.5" textLength="145.50" lengthAdjust="spacingAndGlyphs">effect</text>
<text x="488.53" y="520.7" font-size="67.5" textLength="230.09" lengthAdjust="spacingAndGlyphs">Without</text>
<text x="741.79" y="520.7" font-size="67.5" textLength="219.85" lengthAdjust="spacingAndGlyphs">module:</text>
<text x="987.78" y="520.7" font-size="67.5" textLength="116.00" lengthAdjust="spacingAndGlyphs">Low</text>
<text x="1123.66" y="520.7" font-size="67.5" textLength="220.13" lengthAdjust="spacingAndGlyphs">Doppler</text>
<text x="1366.30" y="520.7" font-size="67.5" textLength="142.38" lengthAdjust="spacingAndGlyphs">value</text>
</g>
<defs><clipPath id="one" clipPathUnits="userSpaceOnUse"><path d="M-1.73 -52.00L41.60 -52.00L41.60 -8.49L26.42 -8.49L26.42 0.69L16.47 0.69L16.47 -8.49L-1.73 -8.49Z"/></clipPath></defs>
<g font-family='"Liberation Sans", sans-serif' font-weight="bold" font-size="71.0" fill="#262626">
<text x="190.99" y="1872.80">-35</text>
<text x="624.99" y="1872.80">-30</text>
<text x="1058.99" y="1872.80">-25</text>
<text x="1492.99" y="1872.80">-20</text>
<text x="1926.99" y="1872.80">-</text>
<g transform="translate(1952.93,1872.80)"><text x="0" y="0" clip-path="url(#one)">1</text></g>
<text x="1990.12" y="1872.80">5</text>
<text x="2360.99" y="1872.80">-</text>
<g transform="translate(2386.93,1872.80)"><text x="0" y="0" clip-path="url(#one)">1</text></g>
<text x="2424.12" y="1872.80">0</text>
<text x="182.71" y="1804.00">0</text>
<text x="123.50" y="1633.00">0.</text>
<g transform="translate(182.71,1633.00)"><text x="0" y="0" clip-path="url(#one)">1</text></g>
<text x="123.50" y="1461.00">0.2</text>
<text x="123.50" y="1290.00">0.3</text>
<text x="123.50" y="1119.00">0.4</text>
<text x="123.50" y="948.00">0.5</text>
<text x="123.50" y="776.00">0.6</text>
<text x="123.50" y="605.00">0.7</text>
<text x="123.50" y="434.00">0.8</text>
<text x="123.50" y="263.00">0.9</text>
<g transform="translate(184.71,91.00)"><text x="0" y="0" clip-path="url(#one)">1</text></g>
</g>
<g font-family='"Liberation Serif", serif' font-weight="bold" fill="#262626" stroke="#ffffff" stroke-width="1.1">
<text x="1152.02" y="1954.8" font-size="74.0" textLength="168.44" lengthAdjust="spacingAndGlyphs">SNR</text>
<text x="1352.35" y="1954.8" font-size="74.0" textLength="156.90" lengthAdjust="spacingAndGlyphs">(dB)</text>
</g>
<g transform="translate(85.8,1401) rotate(-90)" fill="#262626" font-family='"Liberation Serif", serif'>
<g font-weight="bold" stroke="#ffffff" stroke-width="1.1">
<text x="-1.41" y="0" font-size="71.0" textLength="396.21" lengthAdjust="spacingAndGlyphs">Probability</text>
<text x="419.38" y="0" font-size="71.0" textLength="72.67" lengthAdjust="spacingAndGlyphs">of</text>
<text x="511.20" y="0" font-size="71.0" textLength="346.99" lengthAdjust="spacingAndGlyphs">detection,</text>
</g>
<text x="887" y="0" font-style="italic" font-size="75">P</text>
<text x="931" y="11.6" font-style="italic" font-size="52">d</text>
</g>
</svg>
</body></html>
